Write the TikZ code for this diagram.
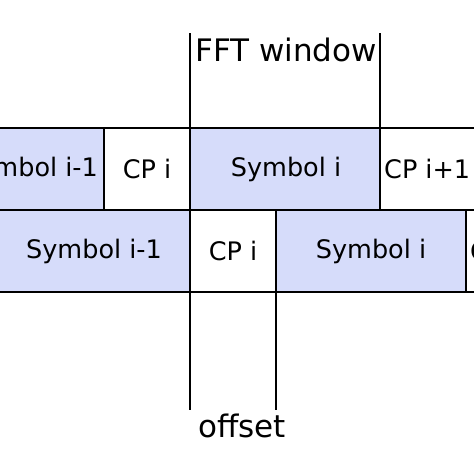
\documentclass[tikz,border=0pt]{standalone}
\usepackage{fontspec}
\setmainfont{DejaVu Sans}
\definecolor{symfill}{RGB}{214,220,250}
\begin{document}
\begin{tikzpicture}[x=1pt,y=-1pt,
  frame/.style={draw=black,line width=2.8pt},
  symbox/.style={frame,fill=symfill},
  cpbox/.style={frame,fill=white},
  boxlabel/.style={font=\fontsize{25.5}{28}\selectfont,inner sep=0pt},
  biglabel/.style={font=\fontsize{31}{34}\selectfont,inner sep=0pt},
  marker/.style={draw=black,line width=2.8pt}]
\useasboundingbox (0,0) rectangle (474,474);
\fill[white] (0,0) rectangle (474,474);
% row 1
\draw[symbox] (-10,128) rectangle (104,210);
\draw[cpbox] (104,128) rectangle (190,210);
\draw[symbox] (190,128) rectangle (380,210);
\draw[cpbox] (380,128) rectangle (484,210);
% row 2
\draw[symbox] (-10,210) rectangle (190,292);
\draw[cpbox] (190,210) rectangle (276,292);
\draw[symbox] (276,210) rectangle (466,292);
\draw[cpbox] (466,210) rectangle (560,292);
% labels row 1
\node[boxlabel] (s1a) at (30,169) {Symbol i-1};
\node[boxlabel] (c1a) at (147,169) {CP i};
\node[boxlabel] (s1b) at (286,169) {Symbol i};
\node[boxlabel,anchor=west] (c1b) at (384,169) {CP i+1};
% labels row 2
\node[boxlabel] (s2a) at (94,251) {Symbol i-1};
\node[boxlabel] (c2a) at (233,251) {CP i};
\node[boxlabel] (s2b) at (371,251) {Symbol i};
\node[boxlabel,anchor=west] (c2b) at (470,251) {CP i+1};
% markers
\coordinate (ftop1) at (190,33);
\coordinate (fbot1) at (190,410);
\coordinate (ftop2) at (380,33);
\coordinate (fbot2) at (380,128);
\coordinate (otop) at (276,292);
\coordinate (obot) at (276,410);
\draw[marker] (ftop1) -- (fbot1);
\draw[marker] (ftop2) -- (fbot2);
\draw[marker] (otop) -- (obot);
\node[biglabel] (fft) at (286,50) {FFT window};
\node[biglabel] (off) at (242,426) {offset};
\end{tikzpicture}
\end{document}
